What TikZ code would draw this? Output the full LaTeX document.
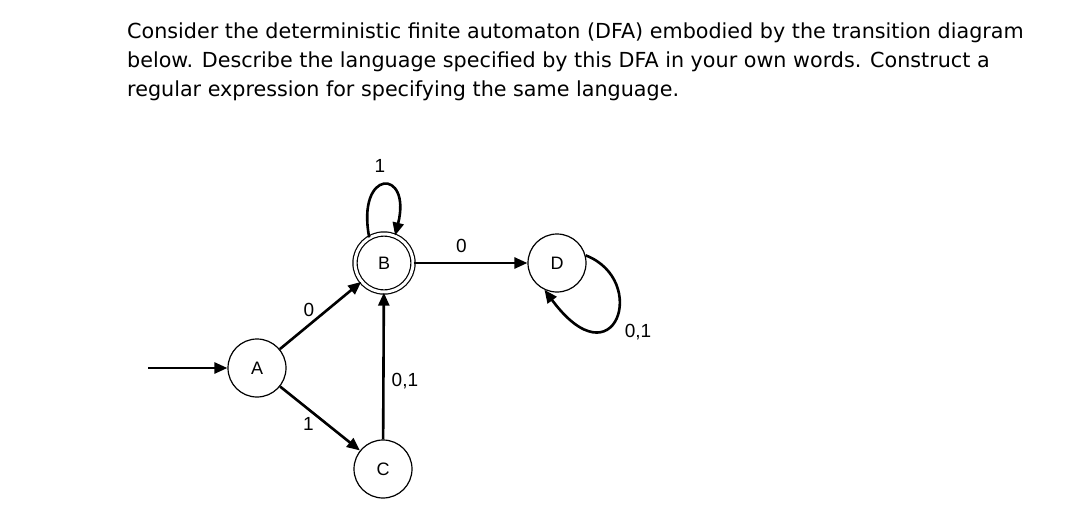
\documentclass[tikz,border=0pt]{standalone}
\usepackage{fontspec}
\setmainfont{DejaVu Sans}
\newfontfamily\lab{Liberation Sans}
\usetikzlibrary{arrows.meta}
\begin{document}
\begin{tikzpicture}[x=1pt,y=-1pt,
  st/.style={circle,draw,line width=1.2pt,minimum size=58pt,inner sep=0pt,font=\lab\fontsize{18}{18}\selectfont},
  acc/.style={st,double,double distance=3pt,minimum size=58pt},
  edge/.style={line width=2.6pt,-{Triangle[length=13pt,width=11pt]}},
  lb/.style={font=\lab\fontsize{19}{19}\selectfont,inner sep=1pt}]
\useasboundingbox (0,0) rectangle (1070,504);
\node[anchor=north west,align=left,inner sep=0pt,font=\fontsize{20.7}{29}\selectfont] (q) at (127,23)
 {Consider the deterministic finite automaton (DFA) embodied by the transition diagram\\
  below. Describe the language specified by this DFA in your own words. Construct a\\
  regular expression for specifying the same language.};
\node[st] (A) at (257,368) {A};
\node[acc] (B) at (384,263) {B};
\node[st] (C) at (383,469) {C};
\node[st] (D) at (557,263) {D};
\coordinate (s) at (148,368);
\draw[edge] (s) -- (A);
\draw[edge] (A) -- node[lb,above left,pos=0.45] {0} (B);
\draw[edge] (A) -- node[lb,below left,pos=0.45] {1} (C);
\draw[edge] (C) -- node[lb,right,pos=0.4,xshift=6pt] {0,1} (B);
\draw[edge] (B) -- node[lb,above,pos=0.42,yshift=8pt] {0} (D);
\draw[edge] (B.120) .. controls (356,168) and (412,168) .. (B.68);
\node[lb] (l1) at (380,166) {1};
\draw[edge] (D.15) .. controls (650,280) and (615,385) .. (D.-115);
\node[lb] (l2) at (638,332) {0,1};
\end{tikzpicture}
\end{document}
